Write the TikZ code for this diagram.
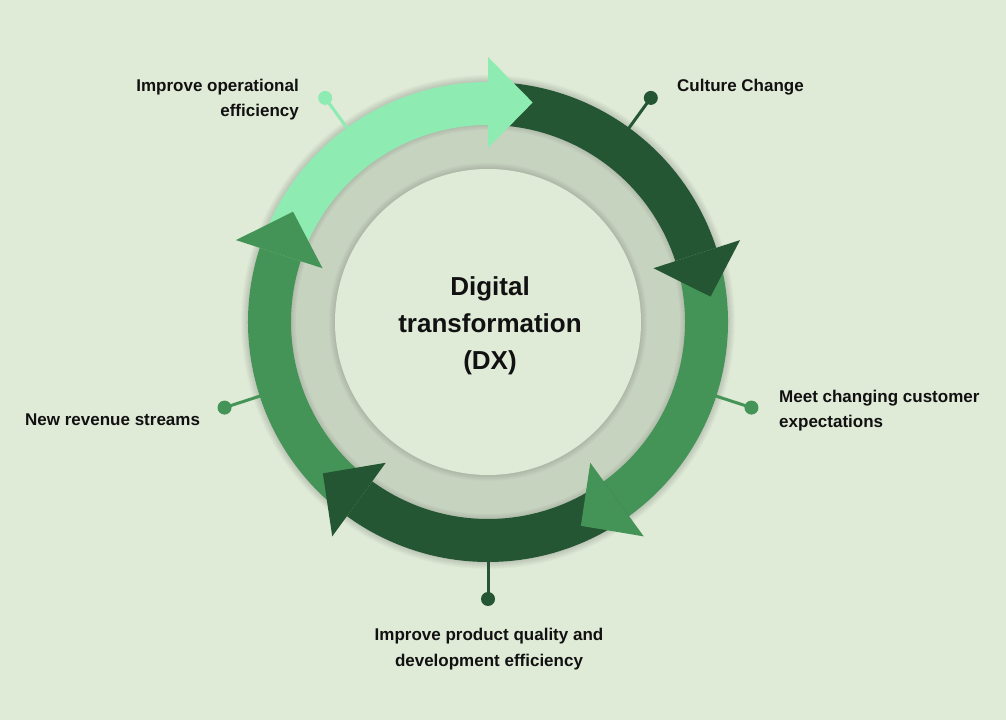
\documentclass[tikz,border=0pt]{standalone}
\usepackage{fontspec}
\setmainfont{Liberation Sans}
\usetikzlibrary{calc}
\definecolor{bg}{HTML}{DFEAD7}
\definecolor{ringgray}{HTML}{C6D3BF}
\definecolor{lightg}{HTML}{8EEBB1}
\definecolor{darkg}{HTML}{255634}
\definecolor{midg}{HTML}{459457}
\definecolor{txt}{HTML}{111111}
\begin{document}
\begin{tikzpicture}[x=1pt,y=1pt,
  lbl/.style={font=\fontsize{17}{25}\selectfont\bfseries, text=txt, inner sep=0pt},
  pindot/.style={circle, fill=#1, minimum size=14pt, inner sep=0pt},
  pinline/.style={draw=#1, line width=3pt},
  shad/.style={fill=black, opacity=0.02}
]
\useasboundingbox (0,0) rectangle (1006,720);
\fill[bg] (0,0) rectangle (1006,720);
\coordinate (c) at (488,398);
\begin{scope}[shift={(c)}]
  % outer halo shadow
  \foreach \k in {1,...,7} \fill[shad] (0,0) circle (240+\k);
  % gray ring
  \fill[ringgray] (0,0) circle (200);
  % shadow of band on gray ring
  \foreach \k in {1,...,6} \fill[shad, even odd rule] (0,0) circle (198) (0,0) circle (198-\k);
  % shadow of inner circle on gray ring
  \foreach \k in {1,...,6} \fill[shad] (0,0) circle (153+\k);
  \fill[bg] (0,0) circle (153);
  % pins
  \foreach \ang/\col/\n in {126/lightg/1, 54/darkg/2, -18/midg/3, -90/darkg/4, 198/midg/5} {
    \coordinate (e\n) at (\ang:236);
    \node[pindot=\col] (p\n) at (\ang:277) {};
    \draw[pinline=\col] (e\n) -- (p\n.center);
  }
  % bands
  \foreach \a/\b/\col in {162/90/lightg, 90/18/darkg, 18/-54/midg, -54/-126/darkg, -126/-198/midg} {
    \fill[\col] (\a:240) arc[start angle=\a, end angle=\b, radius=240] -- (\b:197) arc[start angle=\b, end angle=\a, radius=197] -- cycle;
  }
  % heads
  \foreach \b/\col in {90/lightg, 18/darkg, -54/midg, -126/darkg, -198/midg} {
    \fill[\col] (\b:174) -- ({\b-11.5}:224) -- (\b:265) -- cycle;
  }
\end{scope}
% labels
\node[lbl, anchor=east, align=right] (t1) at (299,620.5) {\strut Improve operational\\\strut efficiency};
\node[lbl, anchor=west, align=left] (t2) at (677,633) {\strut Culture Change};
\node[lbl, anchor=west, align=left] (t3) at (779,309.5) {\strut Meet changing customer\\\strut expectations};
\node[lbl, anchor=center, align=center] (t4) at (489,71.5) {\strut Improve product quality and\\\strut development efficiency};
\node[lbl, anchor=west, align=left] (t5) at (25,299) {\strut New revenue streams};
\node[font=\fontsize{26}{37}\selectfont\bfseries, text=txt, align=center, inner sep=0pt] (title) at (490,394.4) {\strut Digital\\\strut transformation\\\strut (DX)};
\end{tikzpicture}
\end{document}
